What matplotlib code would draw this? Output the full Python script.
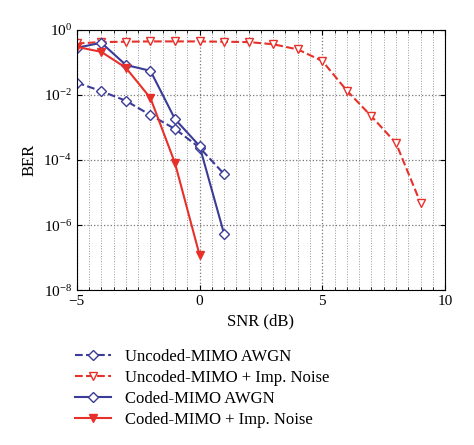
import matplotlib
matplotlib.use("Agg")
import matplotlib.pyplot as plt
from matplotlib.ticker import MultipleLocator

plt.rcParams['font.family'] = ['Liberation Serif', 'DejaVu Serif']
plt.rcParams['mathtext.fontset'] = 'stix'

snr_awgn = [-5, -4, -3, -2, -1, 0, 1]
unc_awgn = [2.4e-2, 1.3e-2, 6.6e-3, 2.4e-3, 9e-4, 2.4e-4, 3.7e-5]
snr_unc_imp = [-5, -4, -3, -2, -1, 0, 1, 2, 3, 4, 5, 6, 7, 8, 9]
unc_imp = [0.38, 0.42, 0.43, 0.44, 0.44, 0.44, 0.43, 0.42, 0.36, 0.25, 0.11, 1.35e-2, 2.2e-3, 3.3e-4, 4.8e-6]
cod_awgn = [0.28, 0.40, 0.083, 0.055, 1.8e-3, 2.7e-4, 5.3e-7]
snr_cod_imp = [-5, -4, -3, -2, -1, 0]
cod_imp = [0.30, 0.21, 0.068, 8e-3, 8e-5, 1.2e-7]
labels = ['Uncoded-MIMO AWGN', 'Uncoded-MIMO + Imp. Noise', 'Coded-MIMO AWGN', 'Coded-MIMO + Imp. Noise']

blue = '#3b3b98'
red = '#e8302a'

fig = plt.figure(figsize=(4.74, 4.45), dpi=100)
ax = fig.add_axes([0.162, 0.348, 0.777, 0.585])
ax.semilogy(snr_awgn, unc_awgn, '--', color=blue, marker='D', ms=5, mfc='white', mec=blue, lw=1.5, label=labels[0])
ax.semilogy(snr_unc_imp, unc_imp, '--', color=red, marker='v', ms=6, mfc='white', mec=red, lw=1.5, label=labels[1])
ax.semilogy(snr_awgn, cod_awgn, '-', color=blue, marker='D', ms=5, mfc='white', mec=blue, lw=1.5, label=labels[2])
ax.semilogy(snr_cod_imp, cod_imp, '-', color=red, marker='v', ms=6, mfc=red, mec=red, lw=1.5, label=labels[3])
ax.set_xlim(-5, 10)
ax.set_ylim(1e-8, 1)
ax.set_xticks([-5, 0, 5, 10])
ax.set_xticklabels(['\u22125', '0', '5', '10'])
ax.set_yticks([1e-8, 1e-6, 1e-4, 1e-2, 1])
ax.minorticks_on()
ax.xaxis.set_minor_locator(MultipleLocator(0.5))
ax.grid(True, which='major', ls=':', color='#777777', lw=0.9)
ax.grid(True, which='minor', ls=':', color='#999999', lw=0.7)
ax.tick_params(direction='in', which='both', top=True, right=True, labelsize=11)
ax.set_xlabel('SNR (dB)', fontsize=12)
ax.set_ylabel('BER', fontsize=12)
h, l = ax.get_legend_handles_labels()
fig.legend(h, l, loc='upper left', bbox_to_anchor=(0.14, 0.235), frameon=False, fontsize=12,
           handlelength=2.2, labelspacing=0.3, borderpad=0)
fig.savefig('out.png', dpi=100)
